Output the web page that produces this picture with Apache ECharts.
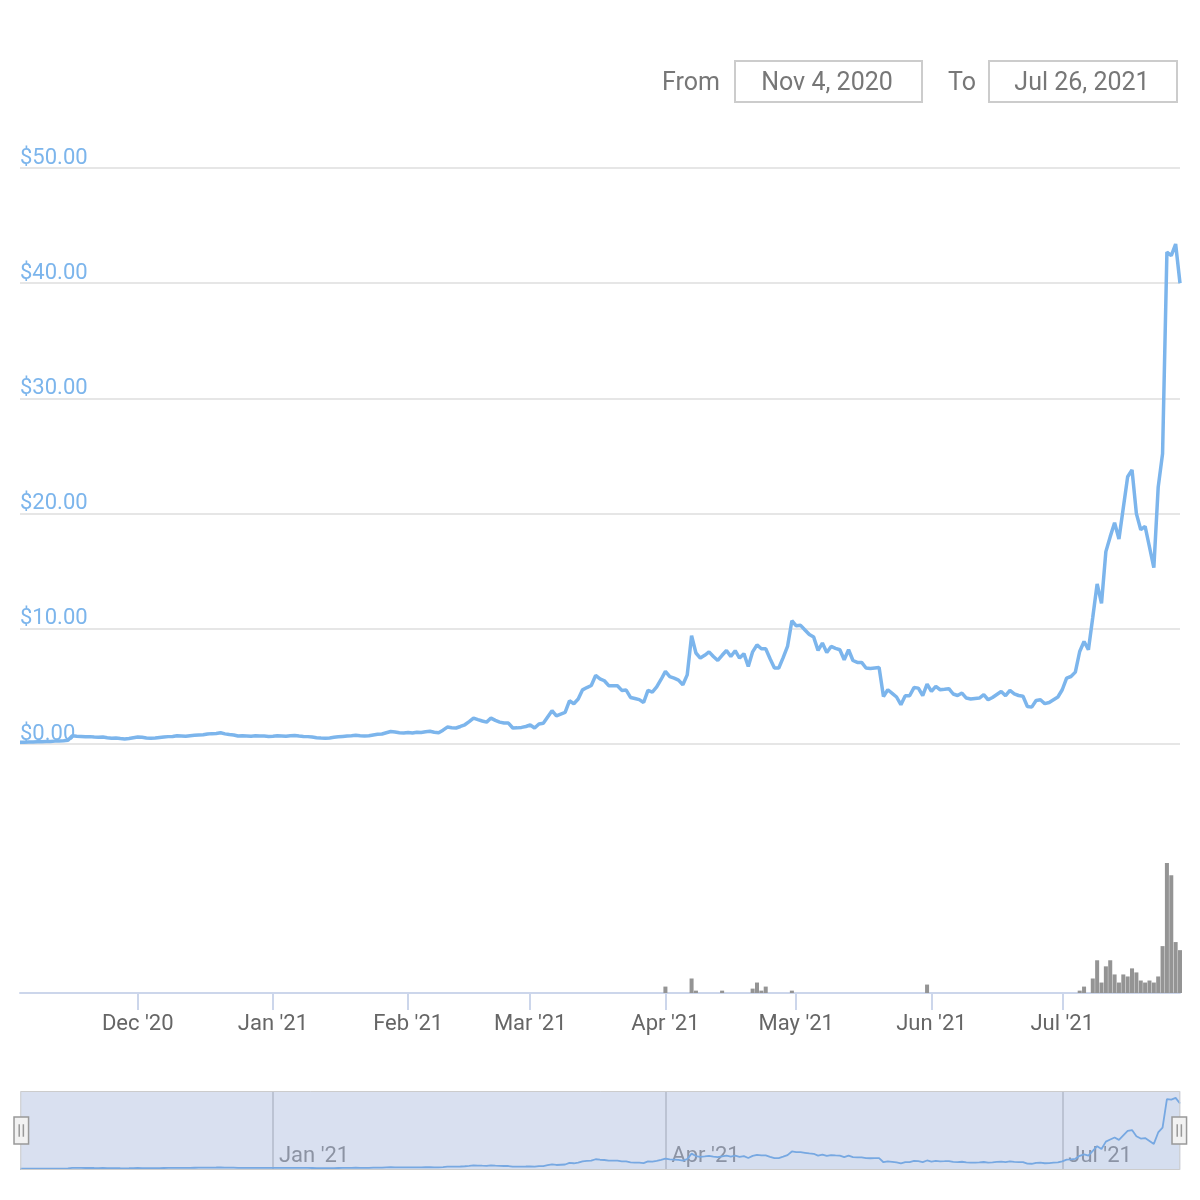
<!DOCTYPE html>
<html>
<head>
<meta charset="utf-8">
<script src="https://cdn.jsdelivr.net/npm/echarts@6/dist/echarts.min.js"></script>
<style>
html,body{margin:0;padding:0;background:#fff;}
#chart{width:1200px;height:1200px;}
</style>
</head>
<body>
<div id="chart"></div>
<script>
// ---------- DATA ----------
const startDate = '2020-11-04';           // first daily price point
const prices = [
  0.15, 0.16, 0.18, 0.17, 0.19, 0.20, 0.22, 0.21, 0.25, 0.26,
  0.28, 0.32, 0.72, 0.68, 0.65, 0.62, 0.64, 0.60, 0.58, 0.61,
  0.55, 0.50, 0.52, 0.47, 0.43, 0.48, 0.55, 0.60, 0.58, 0.53,
  0.50, 0.52, 0.56, 0.60, 0.64, 0.66, 0.72, 0.70, 0.68, 0.72,
  0.75, 0.78, 0.80, 0.86, 0.90, 0.92, 0.98, 0.88, 0.82, 0.78,
  0.69, 0.72, 0.70, 0.68, 0.71, 0.70, 0.69, 0.66, 0.68, 0.72,
  0.70, 0.67, 0.71, 0.73, 0.69, 0.66, 0.64, 0.60, 0.55, 0.52,
  0.50, 0.53, 0.58, 0.62, 0.66, 0.70, 0.72, 0.75, 0.72, 0.70,
  0.72, 0.78, 0.84, 0.87, 0.98, 1.08, 1.04, 0.98, 0.96, 1.00,
  0.95, 1.02, 1.00, 1.06, 1.10, 1.02, 0.98, 1.20, 1.47, 1.42,
  1.39, 1.52, 1.67, 1.95, 2.25, 2.12, 2.00, 1.90, 2.25, 2.05,
  1.90, 1.82, 1.82, 1.39, 1.40, 1.44, 1.52, 1.65, 1.39, 1.74,
  1.80, 2.35, 2.89, 2.45, 2.60, 2.74, 3.75, 3.50, 3.90, 4.70,
  4.90, 5.08, 5.95, 5.66, 5.49, 5.06, 5.06, 5.06, 4.65, 4.68,
  4.04, 3.95, 3.85, 3.60, 4.65, 4.50, 4.95, 5.60, 6.30, 5.85,
  5.72, 5.55, 5.14, 6.00, 9.40, 7.90, 7.46, 7.70, 8.00, 7.60,
  7.25, 7.70, 8.12, 7.60, 8.10, 7.46, 7.84, 6.73, 8.00, 8.60,
  8.27, 8.27, 7.40, 6.60, 6.60, 7.50, 8.47, 10.70, 10.26, 10.30,
  9.90, 9.50, 9.28, 8.12, 8.76, 7.95, 8.47, 8.30, 8.18, 7.31,
  8.18, 7.25, 7.08, 7.08, 6.60, 6.55, 6.60, 6.65, 4.13, 4.71,
  4.40, 4.08, 3.41, 4.19, 4.19, 4.90, 4.85, 4.21, 5.20, 4.56,
  5.00, 4.71, 4.75, 4.80, 4.34, 4.21, 4.42, 3.99, 3.90, 3.95,
  3.99, 4.28, 3.84, 4.04, 4.30, 4.56, 4.19, 4.65, 4.36, 4.21,
  4.15, 3.26, 3.20, 3.78, 3.84, 3.50, 3.60, 3.84, 4.08, 4.71,
  5.72, 5.86, 6.24, 8.03, 8.90, 8.18, 11.00, 13.90, 12.20, 16.70,
  18.00, 19.20, 17.80, 20.50, 23.20, 23.80, 20.00, 18.60, 18.90, 17.10,
  15.30, 22.30, 25.20, 42.70, 42.40, 43.40, 40.00
];
const volumeDates = [
  '2021-04-01', '2021-04-07', '2021-04-08', '2021-04-14', '2021-04-21', '2021-04-22',
  '2021-04-23', '2021-04-24', '2021-04-30', '2021-05-31', '2021-07-05', '2021-07-06',
  '2021-07-08', '2021-07-09', '2021-07-10', '2021-07-11', '2021-07-12', '2021-07-13',
  '2021-07-14', '2021-07-15', '2021-07-16', '2021-07-17', '2021-07-18', '2021-07-19',
  '2021-07-20', '2021-07-21', '2021-07-22', '2021-07-23', '2021-07-24', '2021-07-25',
  '2021-07-26', '2021-07-27', '2021-07-28'
];
const volumeValues = [
  19, 43, 7, 7, 13, 31,
  7, 19, 7, 25, 7, 19,
  43, 97, 31, 79, 97, 55,
  31, 55, 49, 73, 61, 37,
  31, 37, 31, 49, 139, 385,
  349, 151, 127
];
const monthTicks = ['2020-12-01', '2021-01-01', '2021-02-01', '2021-03-01',
                    '2021-04-01', '2021-05-01', '2021-06-01', '2021-07-01'];
const navigatorTicks = ['2021-01-01', '2021-04-01', '2021-07-01'];
const priceTicks = { min: 0, max: 50, interval: 10 };
const rangeFromLabel = 'From';
const rangeToLabel = 'To';
const rangeFrom = 'Nov 4, 2020';
const rangeTo = 'Jul 26, 2021';
const MONTHS = ['Jan','Feb','Mar','Apr','May','Jun','Jul','Aug','Sep','Oct','Nov','Dec'];

// ---------- BUILD ----------
const DAY = 86400000;
function ts(s) { const p = s.split('-').map(Number); return Date.UTC(p[0], p[1] - 1, p[2]); }
const t0 = ts(startDate);
const priceData = prices.map((v, i) => [t0 + i * DAY, v]);
const volumeData = volumeDates.map((d, i) => [ts(d), volumeValues[i]]);
const xMin = priceData[0][0];
const xMax = priceData[priceData.length - 1][0];
const monthTickTs = monthTicks.map(ts);
const navTickTs = navigatorTicks.map(ts);
const navMax = Math.ceil(Math.max.apply(null, prices) * 1.06);

function fmtMonth(v) {
  const d = new Date(v);
  return MONTHS[d.getUTCMonth()] + " '" + String(d.getUTCFullYear()).slice(2);
}

const FONT = 'Roboto, "Noto Sans", sans-serif';
const chart = echarts.init(document.getElementById('chart'), null, { renderer: 'canvas' });

const option = {
  animation: false,
  backgroundColor: '#ffffff',
  textStyle: { fontFamily: FONT },
  grid: [
    { left: 20, right: 20, top: 168, height: 576, outerBoundsMode: 'none', containLabel: false },
    { left: 20, right: 20, top: 853, height: 140, outerBoundsMode: 'none', containLabel: false },
    { left: 20, right: 20, top: 1092, height: 77, outerBoundsMode: 'none', containLabel: false }
  ],
  xAxis: [
    { type: 'value', gridIndex: 0, min: xMin, max: xMax, show: false, splitLine: { show: false } },
    {
      type: 'value', gridIndex: 1, min: xMin, max: xMax,
      axisLine: { show: true, onZero: false, lineStyle: { color: '#ccd6eb', width: 2 } },
      axisTick: { show: true, length: 17, lineStyle: { color: '#ccd6eb', width: 2 }, customValues: monthTickTs },
      axisLabel: { customValues: monthTickTs, formatter: fmtMonth, color: '#666666', fontSize: 22, fontFamily: FONT, margin: 20 },
      splitLine: { show: false }
    },
    {
      type: 'value', gridIndex: 2, min: xMin, max: xMax,
      axisLine: { show: false },
      axisTick: { show: false, customValues: navTickTs },
      axisLabel: { inside: true, customValues: navTickTs, formatter: fmtMonth, color: '#999999', fontSize: 22,
                   fontFamily: FONT, align: 'left', padding: [0, 0, 0, 6], margin: 2 },
      splitLine: { show: true, lineStyle: { color: '#d8d8d8', width: 2 } }
    }
  ],
  yAxis: [
    {
      type: 'value', gridIndex: 0, min: priceTicks.min, max: priceTicks.max, interval: priceTicks.interval,
      axisLine: { show: false }, axisTick: { show: false },
      axisLabel: { inside: true, color: '#7cb5ec', fontSize: 22, fontFamily: FONT, margin: 0,
                   verticalAlign: 'bottom', padding: [0, 0, -1, 0],
                   formatter: v => '$' + v.toFixed(2) },
      splitLine: { show: true, lineStyle: { color: '#e6e6e6', width: 2 } }
    },
    { type: 'value', gridIndex: 1, min: 0, max: 415, show: false, splitLine: { show: false } },
    { type: 'value', gridIndex: 2, min: 0, max: navMax, show: false, splitLine: { show: false } }
  ],
  dataZoom: [{
    type: 'slider', xAxisIndex: 2, filterMode: 'none', start: 0, end: 100,
    left: 19, right: 21, top: 1091, height: 79,
    backgroundColor: 'rgba(0,0,0,0)', borderColor: '#cccccc', borderRadius: 0,
    fillerColor: 'rgba(102,133,194,0.25)',
    showDataShadow: false, showDetail: false, brushSelect: false, moveHandleSize: 0,
    dataBackground: { lineStyle: { opacity: 0 }, areaStyle: { opacity: 0 } },
    selectedDataBackground: { lineStyle: { opacity: 0 }, areaStyle: { opacity: 0 } },
    handleIcon: 'path://M0,0H14V26H0Z M5,7V19 M9,7V19',
    handleSize: 27,
    handleStyle: { color: '#f2f2f2', borderColor: '#999999', borderWidth: 1.5 },
    emphasis: { handleStyle: { color: '#f2f2f2', borderColor: '#999999', borderWidth: 1.5 } }
  }],
  series: [
    {
      name: 'Price', type: 'line', xAxisIndex: 0, yAxisIndex: 0, data: priceData,
      showSymbol: false, smooth: false, z: 3,
      lineStyle: { color: '#7cb5ec', width: 3.5 }, itemStyle: { color: '#7cb5ec' }
    },
    {
      name: 'Volume', type: 'bar', xAxisIndex: 1, yAxisIndex: 1, data: volumeData,
      barWidth: '92%', itemStyle: { color: '#949494' }
    },
    {
      name: 'Navigator', type: 'line', xAxisIndex: 2, yAxisIndex: 2, data: priceData,
      showSymbol: false, lineStyle: { color: '#7cb5ec', width: 1.8 },
      areaStyle: { color: 'rgba(124,181,236,0.05)' }, silent: true
    }
  ],
  graphic: [
    { type: 'text', x: 720, y: 84, style: { text: rangeFromLabel, fill: '#777777', font: '25px ' + FONT, align: 'right', verticalAlign: 'middle' } },
    { type: 'rect', shape: { x: 735, y: 61, width: 187, height: 41 }, style: { fill: '#ffffff', stroke: '#cccccc', lineWidth: 2 } },
    { type: 'text', x: 827, y: 84, style: { text: rangeFrom, fill: '#777777', font: '25px ' + FONT, align: 'center', verticalAlign: 'middle' } },
    { type: 'text', x: 976, y: 84, style: { text: rangeToLabel, fill: '#777777', font: '25px ' + FONT, align: 'right', verticalAlign: 'middle' } },
    { type: 'rect', shape: { x: 989, y: 61, width: 188, height: 41 }, style: { fill: '#ffffff', stroke: '#cccccc', lineWidth: 2 } },
    { type: 'text', x: 1082, y: 84, style: { text: rangeTo, fill: '#777777', font: '25px ' + FONT, align: 'center', verticalAlign: 'middle' } }
  ]
};
chart.setOption(option);
</script>
</body>
</html>
